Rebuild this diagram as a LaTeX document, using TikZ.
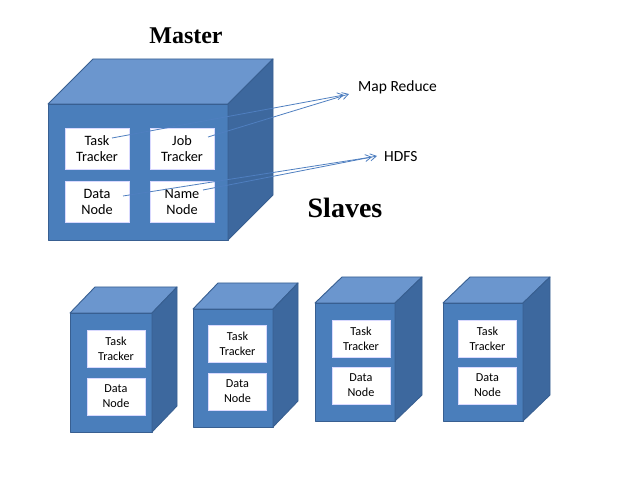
\documentclass[tikz,border=0pt]{standalone}
\usepackage{fontspec}
\setmainfont{Liberation Serif}
\newfontfamily\lblfont{Carlito}
\usetikzlibrary{arrows.meta}
\definecolor{frontc}{HTML}{4A7EBB}
\definecolor{topc}{HTML}{6B96CE}
\definecolor{sidec}{HTML}{3D689E}
\definecolor{edgec}{HTML}{385F91}
\definecolor{linkc}{HTML}{4F7FC0}
\newcommand\mycube[6]{% x y w h dx dy
  \filldraw[fill=frontc,draw=edgec,line width=0.9pt,line join=round] (#1,#2) rectangle ({#1+#3},{#2+#4});
  \filldraw[fill=topc,draw=edgec,line width=0.9pt,line join=round] (#1,#2) -- ({#1+#5},{#2-#6}) -- ({#1+#3+#5},{#2-#6}) -- ({#1+#3},#2) -- cycle;
  \filldraw[fill=sidec,draw=edgec,line width=0.9pt,line join=round] ({#1+#3},#2) -- ({#1+#3+#5},{#2-#6}) -- ({#1+#3+#5},{#2+#4-#6}) -- ({#1+#3},{#2+#4}) -- cycle;
}
\tikzset{
  ibox/.style={fill=white,draw=white!85!blue,line width=0.4pt,align=center,inner sep=0pt},
  mbox/.style={ibox,minimum width=64pt,minimum height=41pt,font=\lblfont\fontsize{14.3}{16.5}\selectfont},
  sbox/.style={ibox,minimum width=58pt,minimum height=37pt,font=\lblfont\fontsize{12.2}{15}\selectfont},
  link/.style={draw=linkc,line width=0.8pt,-{Straight Barb[length=6pt,width=7pt,line width=0.8pt]}},
  lbl/.style={font=\lblfont\fontsize{15.5}{18}\selectfont,anchor=west,inner sep=0pt},
  ttl/.style={font=\bfseries,inner sep=0pt}
}
\begin{document}
\begin{tikzpicture}[x=1pt,y=-1pt]
\useasboundingbox (0,0) rectangle (638,478);
% master
\mycube{48}{104}{180}{136}{45}{45}
\node[mbox] (mtt) at (97,148.5) {Task\\Tracker};
\node[mbox] (mjt) at (182,148.5) {Job\\Tracker};
\node[mbox] (mdn) at (97,202) {Data\\Node};
\node[mbox] (mnn) at (182,202) {Name\\Node};
% slaves
\mycube{70}{313}{82}{119}{25}{26}
\node[sbox] (s1t) at (116,348.5) {Task\\Tracker};
\node[sbox] (s1d) at (116,396.5) {Data\\Node};
\mycube{193}{309}{80}{118}{25}{26}
\node[sbox] (s2t) at (237.5,343.5) {Task\\Tracker};
\node[sbox] (s2d) at (237.5,391.5) {Data\\Node};
\mycube{315}{303}{80}{118}{27}{26}
\node[sbox] (s3t) at (361,338.5) {Task\\Tracker};
\node[sbox] (s3d) at (361,385.5) {Data\\Node};
\mycube{443}{303}{80}{118}{27}{26}
\node[sbox] (s4t) at (487.5,338.5) {Task\\Tracker};
\node[sbox] (s4d) at (487.5,385.5) {Data\\Node};
% titles
\node[ttl,font=\bfseries\fontsize{24}{28}\selectfont] (master) at (186,36) {Master};
\node[ttl,font=\bfseries\fontsize{28}{32}\selectfont] (slaves) at (345,208) {Slaves};
% labels
\node[lbl] (mr) at (358,87) {Map Reduce};
\node[lbl] (hdfs) at (384,157) {HDFS};
% connectors
\coordinate (a1) at (112,138);
\coordinate (a2) at (208,137);
\coordinate (a3) at (123,196);
\coordinate (a4) at (203,190);
\coordinate (t1) at (344,95);
\coordinate (t2) at (349,94);
\coordinate (t3) at (372,157);
\coordinate (t4) at (377,156);
\draw[link] (a1) -- (t1);
\draw[link] (a2) -- (t2);
\draw[link] (a3) -- (t3);
\draw[link] (a4) -- (t4);
\end{tikzpicture}
\end{document}
